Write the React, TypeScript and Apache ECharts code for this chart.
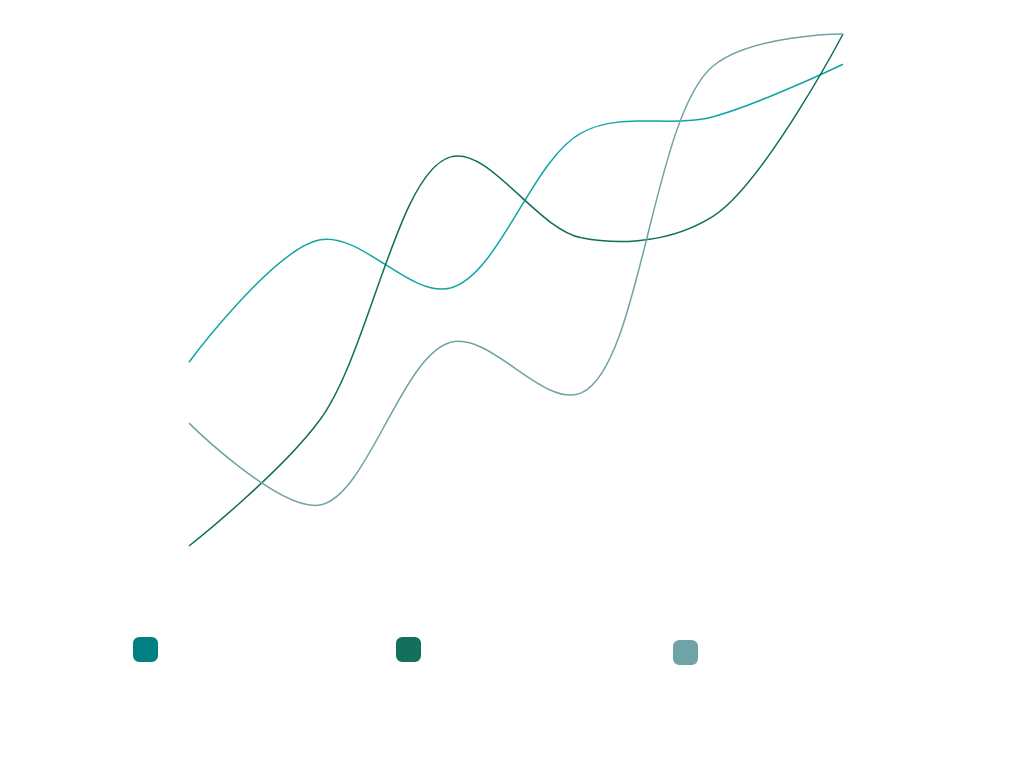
import React, { useEffect, useRef } from "react";
import * as echarts from "echarts";

const categories = ["1", "2", "3", "4", "5", "6"];
const seriesNames = ["Series A", "Series B", "Series C"];
const seriesA = [35.9, 59.8, 50.4, 80.7, 83.8, 94.1];
const seriesB = [0, 24.6, 76.0, 60.2, 64.3, 100];
const seriesC = [24.0, 8.0, 39.8, 29.9, 93.6, 100];
const lineColors = ["#10a5a5", "#0e6e58", "#70a3a5"];
const iconColors = ["#008080", "#146f5c", "#6fa4a6"];

export default function App() {
  const ref = useRef<HTMLDivElement>(null);
  useEffect(() => {
    if (!ref.current) return;
    const chart = echarts.init(ref.current, undefined, { renderer: "svg" });
    const values = [seriesA, seriesB, seriesC];
    const legendPos = [
      { left: 133, top: 637 },
      { left: 396, top: 637 },
      { left: 673, top: 640 },
    ];
    const alpha = 0.5;
    const eps = 1e-12;
    const makeRender = (vals: number[], color: string) => (params: any, api: any) => {
      const i = params.dataIndex;
      const n = vals.length;
      if (i >= n - 1) return null;
      const pts = vals.map((v, j) => api.coord([j, v]));
      const P1 = pts[i];
      const P2 = pts[i + 1];
      const P0 = i > 0 ? pts[i - 1] : null;
      const P3 = i + 2 < n ? pts[i + 2] : null;
      const la = (a: number[], b: number[]) =>
        Math.pow((a[0] - b[0]) ** 2 + (a[1] - b[1]) ** 2, alpha / 2);
      const l12a = la(P1, P2);
      const l12_2a = l12a * l12a;
      let cp1 = [P1[0], P1[1]];
      let cp2 = [P2[0], P2[1]];
      if (P0) {
        const l01a = la(P0, P1);
        const l01_2a = l01a * l01a;
        if (l01a > eps) {
          const a = 2 * l01_2a + 3 * l01a * l12a + l12_2a;
          const nn = 3 * l01a * (l01a + l12a);
          cp1 = [
            (P1[0] * a - P0[0] * l12_2a + P2[0] * l01_2a) / nn,
            (P1[1] * a - P0[1] * l12_2a + P2[1] * l01_2a) / nn,
          ];
        }
      }
      if (P3) {
        const l23a = la(P2, P3);
        const l23_2a = l23a * l23a;
        if (l23a > eps) {
          const b = 2 * l23_2a + 3 * l23a * l12a + l12_2a;
          const m = 3 * l23a * (l23a + l12a);
          cp2 = [
            (P2[0] * b + P1[0] * l23_2a - P3[0] * l12_2a) / m,
            (P2[1] * b + P1[1] * l23_2a - P3[1] * l12_2a) / m,
          ];
        }
      }
      return {
        type: "bezierCurve",
        shape: {
          x1: P1[0],
          y1: P1[1],
          cpx1: cp1[0],
          cpy1: cp1[1],
          cpx2: cp2[0],
          cpy2: cp2[1],
          x2: P2[0],
          y2: P2[1],
        },
        style: { stroke: color, lineWidth: 1.5, fill: "none" },
        silent: true,
      };
    };
    chart.setOption({
      animation: false,
      grid: { left: 189, right: 181, top: 34, bottom: 222 },
      xAxis: {
        type: "category",
        data: categories,
        boundaryGap: false,
        show: false,
      },
      yAxis: { type: "value", min: 0, max: 100, show: false },
      legend: seriesNames.map((n, i) => ({
        data: [n],
        left: legendPos[i].left,
        top: legendPos[i].top,
        icon: "roundRect",
        itemWidth: 25,
        itemHeight: 25,
        formatter: () => "",
        padding: 0,
        selectedMode: false,
      })),
      series: seriesNames.map((n, i) => ({
        name: n,
        type: "custom",
        data: values[i].map((v, j) => [j, v]),
        encode: { x: 0, y: 1 },
        renderItem: makeRender(values[i], lineColors[i]),
        itemStyle: { color: iconColors[i] },
        clip: false,
      })),
    });
    return () => chart.dispose();
  }, []);
  return (
    <div
      ref={ref}
      style={{ position: "fixed", left: 0, top: 0, width: 1024, height: 768 }}
    />
  );
}
